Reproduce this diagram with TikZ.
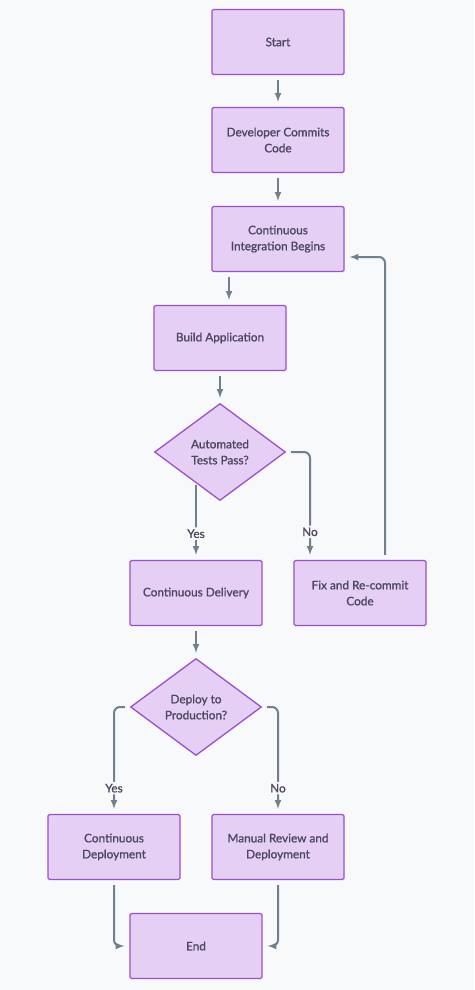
\documentclass[tikz,border=0pt]{standalone}
\usepackage{fontspec}
\setmainfont{Lato}[FakeBold=1.2]
\usetikzlibrary{shapes.geometric}
\definecolor{boxfill}{HTML}{E5CFF5}
\definecolor{boxline}{HTML}{9B50D0}
\definecolor{arrowgray}{HTML}{71808C}
\definecolor{bggray}{HTML}{F8F9FA}
\definecolor{txtgray}{HTML}{4D4760}
\begin{document}
\begin{tikzpicture}
  [x=1pt,y=-1pt,
   every node/.style={font=\fontsize{11.8}{16}\selectfont,text=txtgray,align=center},
   box/.style={rectangle,draw=boxline,fill=boxfill,line width=1.3pt,rounded corners=1.5pt,minimum width=132pt,minimum height=65pt},
   decide/.style={diamond,draw=boxline,fill=boxfill,line width=1.3pt,minimum width=131pt,minimum height=97pt,inner sep=0pt},
   flow/.style={-latex,draw=arrowgray,line width=2pt,rounded corners=6pt,shorten <=5pt,shorten >=5pt},
   lbl/.style={fill=bggray,inner sep=2pt}]
  \fill [bggray] (0,0) rectangle (474,990);

  \node [box] (start) at (278,42) {Start};
  \node [box] (commit) at (278,140) {Developer Commits\\Code};
  \node [box] (ci) at (278,239) {Continuous\\Integration Begins};
  \node [box] (build) at (220,338) {Build Application};
  \node [decide] (tests) at (220,452) {Automated\\Tests Pass?};
  \node [box] (delivery) at (196,593) {Continuous Delivery};
  \node [box] (fix) at (360,593) {Fix and Re-commit\\Code};
  \node [decide] (deploy) at (196,707) {Deploy to\\Production?};
  \node [box] (cdeploy) at (114,847) {Continuous\\Deployment};
  \node [box] (manual) at (278,847) {Manual Review and\\Deployment};
  \node [box] (stop) at (196,946) {End};

  \draw [flow] (start) -- (commit);
  \draw [flow] (commit) -- (ci);
  \draw [flow] ([xshift=-49pt]ci.south) -- ([xshift=-49pt]ci.south |- build.north);
  \draw [flow] (build) -- (tests);
  \draw [flow,shorten <=0pt] (tests.237 -| delivery.north) -- node [lbl,pos=.65] {Yes} (delivery.north);
  \draw [flow] (tests.east) -| node [lbl,pos=.87] {No} ([xshift=-50pt]fix.north);
  \draw [flow] ([xshift=25pt]fix.north) |- ([yshift=-18pt]ci.east);
  \draw [flow] (delivery) -- (deploy);
  \draw [flow] (deploy.west) -| node [lbl,pos=.88] {Yes} (cdeploy.north);
  \draw [flow] (deploy.east) -| node [lbl,pos=.88] {No} (manual.north);
  \draw [flow] (cdeploy.south) |- (stop.west);
  \draw [flow] (manual.south) |- (stop.east);
\end{tikzpicture}
\end{document}
